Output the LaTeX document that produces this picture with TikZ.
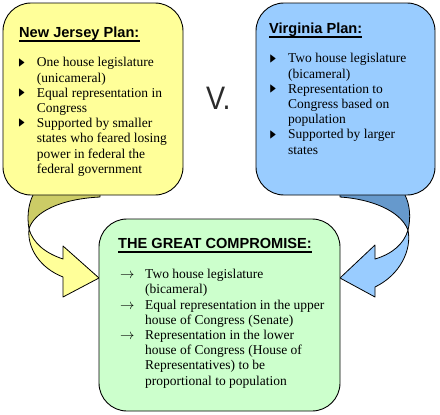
\documentclass[tikz,border=0pt]{standalone}
\usepackage{fontspec}
\usepackage{amssymb}
\setmainfont{Liberation Serif}
\newfontfamily\headfont{Liberation Sans}
\usetikzlibrary{positioning}
\definecolor{njfill}{HTML}{FFFF99}
\definecolor{njdark}{HTML}{CCCC66}
\definecolor{vafill}{HTML}{99CCFF}
\definecolor{vadark}{HTML}{6699CC}
\definecolor{gcfill}{HTML}{CCFFCC}
\definecolor{vsgray}{HTML}{2B2B2B}
\newcommand{\tri}{\makebox[18.4pt][l]{\raisebox{0.8pt}{\scalebox{0.65}[1.05]{$\blacktriangleright$}}}}
\newcommand{\arr}{\makebox[25pt][l]{$\rightarrow$}}

\begin{document}
\begin{tikzpicture}[x=1pt, y=-1pt,
  plan/.style={draw, line width=0.9pt, rounded corners=28pt, inner sep=0,
               minimum height=192pt},
  head/.style={font=\headfont\bfseries\fontsize{14.6}{16}\selectfont,
               inner sep=0, anchor=base west},
  body/.style={font=\fontsize{13.5}{15.2}\selectfont, inner sep=0,
               anchor=north west},
  ribbon/.style={draw, line width=0.8pt, line join=round},
  uline/.style={line width=1.5pt},
]
  \useasboundingbox (0,0) rectangle (440,415);

  % curved arrows, behind the boxes
  \path[ribbon, fill=njdark] (33,192) -- (33,195) .. controls (28,205) and (27,218) .. (29,229)
    .. controls (34,212) and (60,199) .. (100,197) -- (100,192) -- cycle;
  \path[ribbon, fill=njfill] (29,229) .. controls (27,248) and (40,268) .. (63,277)
    -- (63,297) -- (99,278) -- (63,246) -- (63,259)
    .. controls (45,253) and (33,243) .. (29,229) -- cycle;
  \path[ribbon, fill=vadark] (340,192) -- (340,197) .. controls (370,199) and (400,210) .. (408,230)
    .. controls (411,218) and (410,205) .. (405,195) -- (405,192) -- cycle;
  \path[ribbon, fill=vafill] (408,230) .. controls (412,250) and (400,275) .. (375,287)
    -- (375,297) -- (340,278) -- (375,245) -- (375,259)
    .. controls (392,254) and (404,244) .. (408,230) -- cycle;

  % the three boxes
  \node[plan, fill=njfill, minimum width=180pt] (nj) at (93,99) {};
  \node[plan, fill=vafill, minimum width=179pt] (va) at (345.5,99) {};
  \node[plan, fill=gcfill, minimum width=241pt] (gc) at (219.5,315) {};

  \node[font=\headfont\fontsize{32.5}{33}\selectfont, text=vsgray, inner sep=0,
        anchor=base west] (vs) at (206,109.3) {\scalebox{0.88}[1]{V.}};

  % New Jersey
  \node[head] (njtitle) at (19,37.5) {New Jersey Plan:};
  \draw[uline] ([yshift=-3.5pt]njtitle.base west) -- ([yshift=-3.5pt]njtitle.base east);
  \node[body] (njtext) at (18.3,56.1) {\begin{tabular}{@{}l@{}l@{}}
    \tri & One house legislature\\
         & (unicameral)\\
    \tri & Equal representation in\\
         & Congress\\
    \tri & Supported by smaller\\
         & states who feared losing\\
         & power in federal the\\
         & federal government
  \end{tabular}};

  % Virginia
  \node[head] (vatitle) at (269,33.3) {Virginia Plan:};
  \draw[uline] ([yshift=-3.5pt]vatitle.base west) -- ([yshift=-3.5pt]vatitle.base east);
  \node[body] (vatext) at (269.5,52.1) {\begin{tabular}{@{}l@{}l@{}}
    \tri & Two house legislature\\
         & (bicameral)\\
    \tri & Representation to\\
         & Congress based on\\
         & population\\
    \tri & Supported by larger\\
         & states
  \end{tabular}};

  % compromise
  \node[head] (gctitle) at (118,248.3) {THE GREAT COMPROMISE:};
  \draw[uline] ([yshift=-3.5pt]gctitle.base west) -- ([yshift=-3.5pt]gctitle.base east);
  \node[body] (gctext) at (120,267.9) {\begin{tabular}{@{}l@{}l@{}}
    \arr & Two house legislature\\
         & (bicameral)\\
    \arr & Equal representation in the upper\\
         & house of Congress (Senate)\\
    \arr & Representation in the lower\\
         & house of Congress (House of\\
         & Representatives) to be\\
         & proportional to population
  \end{tabular}};
\end{tikzpicture}
\end{document}
